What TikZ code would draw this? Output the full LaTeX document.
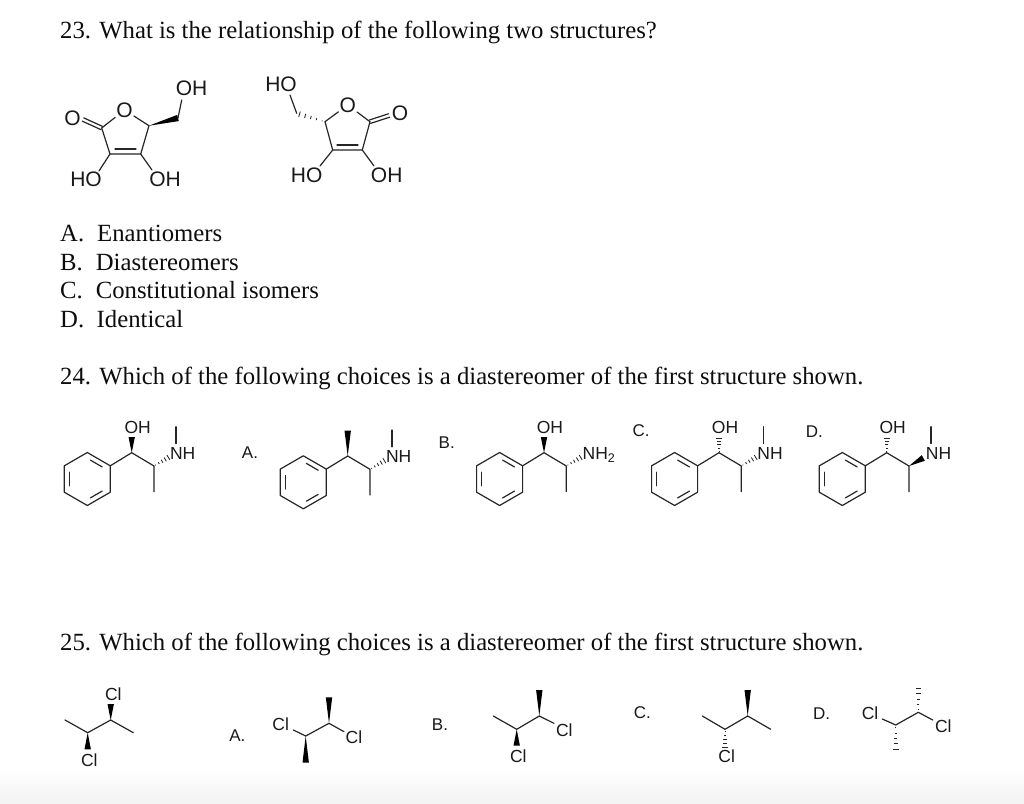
\documentclass[tikz,border=0pt]{standalone}
\usepackage{fontspec}
\setmainfont{Liberation Serif}
\setsansfont{Liberation Sans}
\usetikzlibrary{calc}
\tikzset{
  bond/.style={line width=1.2pt,black!85,line cap=round},
  txt/.style={anchor=base west,inner sep=0pt,font=\fontsize{24.72}{28}\selectfont,text=black!95},
  atom/.style={inner sep=1pt,font=\sffamily\fontsize{21}{22}\selectfont,text=black!90},
  atoms/.style={inner sep=1pt,font=\sffamily\fontsize{17.5}{18}\selectfont,text=black!90},
  opt/.style={inner sep=0pt,font=\sffamily\fontsize{17}{18}\selectfont,text=black!90}
}
% solid wedge: narrow at #1, wide at #2
\newcommand\wdg[2]{\fill[black] (#1) -- ($(#2)!3.2pt!90:(#1)$) -- ($(#2)!3.2pt!-90:(#1)$) -- cycle;}
% hashed wedge: narrow at #1, wide at #2
\newcommand\hsh[2]{\foreach \t/\w in {0.1/0.4,0.3/1.0,0.5/1.6,0.7/2.2,0.9/2.8}{%
  \draw[line width=0.85pt,black!85] ($(#1)!\t!(#2)!\w pt!90:(#1)$) -- ($(#1)!\t!(#2)!\w pt!-90:(#1)$);}}
% double bond, two parallel strokes
\newcommand\dbl[2]{\draw[bond] ($(#1)!1.8pt!90:(#2)$) -- ($(#2)!1.8pt!-90:(#1)$);
  \draw[bond] ($(#1)!1.8pt!-90:(#2)$) -- ($(#2)!1.8pt!90:(#1)$);}
% phenyl-C-C-CH3 skeleton, #1 prefix, #2 shift
\newcommand\skel[2]{\begin{scope}[shift={(#2)}]
  \coordinate (#1c) at (87.3,479);
  \coordinate (#1t) at (87.3,452.5);
  \coordinate (#1ur) at (110.3,465.8);
  \coordinate (#1lr) at (110.3,492.2);
  \coordinate (#1b) at (87.3,505.5);
  \coordinate (#1ll) at (64.3,492.2);
  \coordinate (#1ul) at (64.3,465.8);
  \coordinate (#1ca) at (131.7,452.7);
  \coordinate (#1cb) at (154,466);
  \coordinate (#1me) at (154,491.7);
  \coordinate (#1wt) at (131.7,437);
  \coordinate (#1m1) at (176,426.7);
  \coordinate (#1m2) at (176,443.5);
  \coordinate (#1nb) at (170,456.5);
  \draw[bond,line join=round] (#1t) -- (#1ur) -- (#1lr) -- (#1b) -- (#1ll) -- (#1ul) -- cycle;
  \draw[bond,shorten <=3.5pt,shorten >=3.5pt] ($(#1c)!.78!(#1t)$) -- ($(#1c)!.78!(#1ur)$);
  \draw[bond,shorten <=3.5pt,shorten >=3.5pt] ($(#1c)!.78!(#1lr)$) -- ($(#1c)!.78!(#1b)$);
  \draw[bond,shorten <=3.5pt,shorten >=3.5pt] ($(#1c)!.78!(#1ll)$) -- ($(#1c)!.78!(#1ul)$);
  \draw[bond] (#1ur) -- (#1ca) -- (#1cb) -- (#1me);
  \end{scope}}
\begin{document}
\begin{tikzpicture}[x=1pt,y=-1pt]
\useasboundingbox (0,0) rectangle (1024,803);
\fill[white] (0,0) rectangle (1024,803);
\shade[top color=white,bottom color=black!5] (0,768) rectangle (1024,803);
% question text
\node[txt] (q23) at (60,38) {23. What is the relationship of the following two structures?};
\node[txt] (oa) at (60,241) {A.\hspace{13pt}Enantiomers};
\node[txt] (ob) at (60,270) {B.\hspace{13pt}Diastereomers};
\node[txt] (oc) at (60,298.5) {C.\hspace{13pt}Constitutional isomers};
\node[txt] (od) at (60,327) {D.\hspace{12.5pt}Identical};
\node[txt] (q24) at (60,384) {24. Which of the following choices is a diastereomer of the first structure shown.};
\node[txt] (q25) at (60,650) {25. Which of the following choices is a diastereomer of the first structure shown.};

% --- Q23 left
\node[atom] (lo) at (124.5,110) {O};
\node[atom] (lo2) at (72.5,118) {O};
\node[atom] (loh) at (191.5,88.5) {OH};
\node[atom] (lho) at (86,179.5) {HO};
\node[atom] (loh2) at (165,179.5) {OH};
\coordinate (l1) at (101.7,128);
\coordinate (l2) at (110,154);
\coordinate (l3) at (140.7,154);
\coordinate (l4) at (149,125.7);
\coordinate (l5) at (178,118);
\coordinate (l6) at (181.7,100);
\coordinate (l7) at (83,119.5);
\coordinate (l8) at (99,171);
\coordinate (l9) at (152,170);
\draw[bond] (lo) -- (l1) -- (l2) -- (l3) -- (l4) -- (lo);
\draw[bond] (115,149) -- (136,149);
\dbl{l1}{l7}
\wdg{l4}{l5}
\draw[bond] (l5) -- (l6);
\draw[bond] (l2) -- (l8);
\draw[bond] (l3) -- (l9);

% --- Q23 right
\node[atom] (ro) at (347.7,105) {O};
\node[atom] (ro2) at (400,113.3) {O};
\node[atom] (rho) at (281,84) {HO};
\node[atom] (rho2) at (306.7,175) {HO};
\node[atom] (roh) at (386.7,175) {OH};
\coordinate (r1) at (370,121.7);
\coordinate (r2) at (362.3,150);
\coordinate (r3) at (332.7,150);
\coordinate (r4) at (325,121.7);
\coordinate (r5) at (296.7,113.3);
\coordinate (r6) at (290,95);
\coordinate (r7) at (389,115.5);
\coordinate (r8) at (320,166);
\coordinate (r9) at (374,166);
\draw[bond] (ro) -- (r1) -- (r2) -- (r3) -- (r4) -- (ro);
\draw[bond] (337,145) -- (358,145);
\dbl{r1}{r7}
\hsh{r4}{r5}
\draw[bond] (r5) -- (r6);
\draw[bond] (r2) -- (r9);
\draw[bond] (r3) -- (r8);

% --- Q24 structures
\skel{a}{0,0}
\node[atoms] (aoh) at (137.7,427.5) {OH};
\node[atoms] (anh) at (182.7,453.5) {NH};
\wdg{aca}{awt}
\hsh{acb}{anb}
\draw[bond] (am1) -- (am2);

\node[opt] (la) at (250,453) {A.};
\skel{b}{216,3.3}
\node[atoms] (bnh) at (398.7,456.8) {NH};
\coordinate (btop) at (347.7,430.6);
\wdg{bca}{btop}
\hsh{bcb}{bnb}
\draw[bond] (bm1) -- (bm2);

\node[opt] (lb) at (446.7,442.7) {B.};
\skel{c}{412.3,0}
\node[atoms] (coh) at (550,427.5) {OH};
\node[atoms,anchor=west,inner sep=0pt] (cnh) at (582.5,455) {NH\raisebox{-3pt}{\fontsize{12.5}{13}\selectfont 2}};
\wdg{cca}{cwt}
\hsh{ccb}{cnb}

\node[opt] (lc) at (641,430.7) {C.};
\skel{d}{587.3,0}
\node[atoms] (doh) at (725,427.5) {OH};
\node[atoms] (dnh) at (770,453.5) {NH};
\hsh{dca}{dwt}
\hsh{dcb}{dnb}
\draw[bond] (dm1) -- (dm2);

\node[opt] (ld) at (814.3,431.7) {D.};
\skel{e}{755,0}
\node[atoms] (eoh) at (892.7,427.5) {OH};
\node[atoms] (enh) at (938.5,453.5) {NH};
\hsh{eca}{ewt}
\coordinate (ewn) at (923.3,458);
\wdg{ecb}{ewn}
\draw[bond] (em1) -- (em2);

% --- Q25 base
\coordinate (s1) at (65,720);
\coordinate (s2) at (87.7,732.7);
\coordinate (s3) at (110.7,720);
\coordinate (s4) at (133.3,732.7);
\coordinate (s5) at (110.7,704);
\coordinate (s6) at (87.7,749.3);
\node[atoms] (scl1) at (113.3,694) {Cl};
\node[atoms] (scl2) at (89.3,760) {Cl};
\draw[bond,line join=round] (s1) -- (s2) -- (s3) -- (s4);
\wdg{s3}{s5}
\wdg{s2}{s6}

% A
\node[opt] (qa) at (237.3,736) {A.};
\coordinate (a1) at (305.7,736);
\coordinate (a2) at (329,723.3);
\coordinate (a3) at (329,697.3);
\coordinate (a4) at (305.7,762.7);
\coordinate (a5) at (293.3,730);
\coordinate (a6) at (344,731.7);
\node[atoms] (acl1) at (280.7,724) {Cl};
\node[atoms] (acl2) at (354,737.3) {Cl};
\draw[bond,line join=round] (a5) -- (a1) -- (a2) -- (a6);
\wdg{a2}{a3}
\wdg{a1}{a4}

% B
\node[opt] (qb) at (440,725) {B.};
\coordinate (b1) at (493.3,716);
\coordinate (b2) at (516.7,729.3);
\coordinate (b3) at (539.3,716);
\coordinate (b4) at (554,723.3);
\coordinate (b5) at (539.3,690);
\coordinate (b6) at (516.7,745.7);
\node[atoms] (bcl1) at (564.3,730) {Cl};
\node[atoms] (bcl2) at (518.3,756.7) {Cl};
\draw[bond,line join=round] (b1) -- (b2) -- (b3) -- (b4);
\wdg{b3}{b5}
\wdg{b2}{b6}

% C
\node[opt] (qc) at (642.3,712.3) {C.};
\coordinate (c1) at (702.3,716);
\coordinate (c2) at (725,729.3);
\coordinate (c3) at (747.7,716);
\coordinate (c4) at (770.7,729.3);
\coordinate (c5) at (747.7,690);
\coordinate (c6) at (725,749);
\node[atoms] (ccl) at (726.7,756.7) {Cl};
\draw[bond,line join=round] (c1) -- (c2) -- (c3) -- (c4);
\wdg{c3}{c5}
\hsh{c2}{c6}

% D
\node[opt] (qd) at (821.7,713.3) {D.};
\coordinate (d1) at (882.3,719);
\coordinate (d2) at (895.7,725);
\coordinate (d3) at (918.3,712.3);
\coordinate (d4) at (932.7,720);
\coordinate (d5) at (918.3,686);
\coordinate (d6) at (895.7,751.7);
\node[atoms] (dcl1) at (870,713.3) {Cl};
\node[atoms] (dcl2) at (943.3,726) {Cl};
\draw[bond,line join=round] (d1) -- (d2) -- (d3) -- (d4);
\hsh{d3}{d5}
\hsh{d2}{d6}
\end{tikzpicture}
\end{document}
